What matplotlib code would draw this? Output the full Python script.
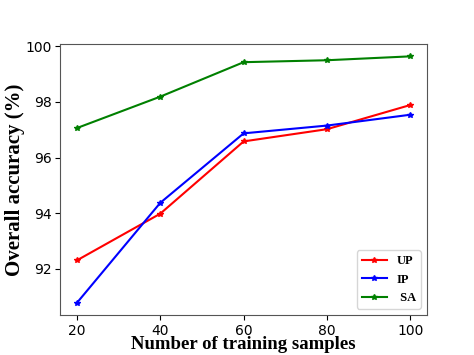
import matplotlib
matplotlib.use("Agg")
import matplotlib.pyplot as plt

samples = [20, 40, 60, 80, 100]
up = [92.30, 93.98, 96.58, 97.02, 97.89]
ip = [90.77, 94.37, 96.87, 97.15, 97.54]
sa = [97.06, 98.19, 99.43, 99.50, 99.64]

fig = plt.figure(figsize=(4.74, 3.55), dpi=100)
ax = fig.add_axes([0.127, 0.112, 0.774, 0.764])

ax.plot(samples, up, color="red", marker="*", markersize=4, lw=1.5, label="UP")
ax.plot(samples, ip, color="blue", marker="*", markersize=4, lw=1.5, label="IP")
ax.plot(samples, sa, color="green", marker="*", markersize=4, lw=1.5, label=" SA")

ax.set_xticks(samples)
ax.set_yticks([92, 94, 96, 98, 100])
ax.tick_params(labelsize=10, pad=2.5)
for s in ax.spines.values():
    s.set_color("#555555")

serif = ["Liberation Serif", "DejaVu Serif"]
ax.set_xlabel("Number of training samples", family=serif, fontweight="bold", fontsize=13.5, labelpad=-1)
ax.set_ylabel("Overall accuracy (%)", family=serif, fontweight="bold", fontsize=15, labelpad=0)

ax.legend(loc="lower right", prop={"family": serif, "weight": "bold", "size": 9})

fig.savefig("out.png", dpi=100)
